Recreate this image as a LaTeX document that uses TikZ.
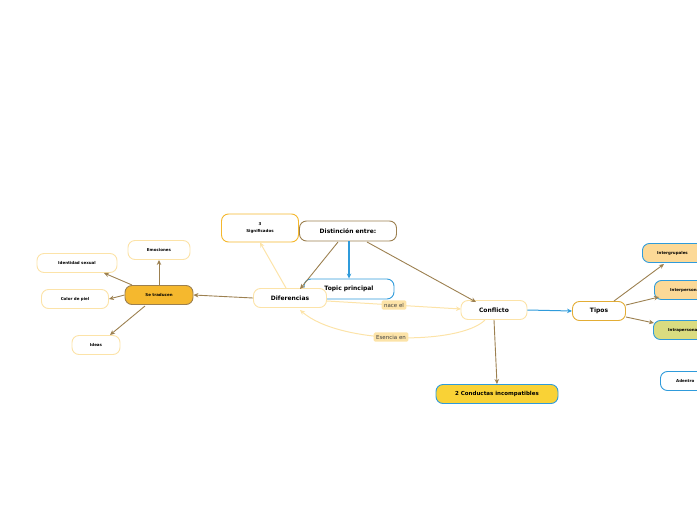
\documentclass[tikz,border=0pt]{standalone}
\usepackage{fontspec}
\setmainfont{DejaVu Sans}
\usetikzlibrary{arrows.meta}
\definecolor{brn}{HTML}{9C8050}
\definecolor{lbr}{HTML}{FCE3A8}
\definecolor{blu}{HTML}{2F9BDB}
\definecolor{gold}{HTML}{F5B82E}
\tikzset{
  box/.style={draw, rounded corners=7pt, fill=white, line width=0.9pt, align=center, inner sep=0pt, font=\bfseries\fontsize{#1}{#1}\selectfont},
  box/.default=4,
  rt/.style={anchor=west, inner sep=0pt, font=\bfseries\fontsize{4}{4}\selectfont},
  ar/.style={draw=brn, line width=0.9pt, -{Stealth[length=5pt,width=4.5pt]}},
  la/.style={draw=lbr, line width=1pt, -{Stealth[length=5pt,width=4.5pt]}},
  ba/.style={draw=blu, line width=1.3pt, -{Stealth[length=5pt,width=4.5pt]}},
  lab/.style={fill=lbr, rounded corners=1.5pt, font=\fontsize{5.5}{5.5}\selectfont, text=black!75, inner sep=2.5pt}
}
\begin{document}
\begin{tikzpicture}[x=1pt,y=-1pt]
\useasboundingbox (0,0) rectangle (697,520);
\clip (0,0) rectangle (697,520);
% right nodes
\node[box, draw=blu, fill=lbr!90!orange, minimum width=90, minimum height=19, anchor=west] (ig) at (642,253) {};
\node[rt] at (657,253.5) {Intergrupales};
\node[box, draw=blu, fill=lbr!90!orange, minimum width=90, minimum height=19, anchor=west] (ip) at (654,290) {};
\node[rt] at (670,290.5) {Interpersonales};
\node[box, draw=blu, fill=yellow!45!green!25!lbr, minimum width=90, minimum height=19, anchor=west] (it) at (653,330) {};
\node[rt] at (668,330.5) {Intrapersonales};
\node[box, draw=blu, minimum width=90, minimum height=19, anchor=west] (ad) at (660,381) {};
\node[rt] at (676,381.5) {Adentro};
\node[box=6, draw=brn, minimum width=97, minimum height=20] (dis) at (348,231) {Distinción entre:};
\node[box=6, draw=blu, minimum width=90, minimum height=20] (top) at (349,289) {Topic principal};
\node[box=6, draw=lbr, minimum width=73, minimum height=19] (dif) at (290,298) {Diferencias};
\node[box, draw=gold, minimum width=77, minimum height=28] (sig) at (260,228) {3\\[3pt]Significados};
\node[box, draw=brn, fill=gold, minimum width=68, minimum height=19] (tra) at (159,295) {Se traducen};
\node[box, draw=lbr, minimum width=62, minimum height=19] (emo) at (159,250) {Emociones};
\node[box, draw=lbr, minimum width=80, minimum height=19] (ide) at (77,263) {Identidad sexual};
\node[box, draw=lbr, minimum width=67, minimum height=19] (col) at (75,299) {Color de piel};
\node[box, draw=lbr, minimum width=48, minimum height=19] (ida) at (96,345) {Ideas};
\node[box=6, draw=lbr, minimum width=66, minimum height=19] (con) at (494,310) {Conflicto};
\node[box=6, draw=gold!80!brn, minimum width=53, minimum height=19] (tip) at (599,311) {Tipos};
\node[box=5.5, draw=blu, fill=gold!70!yellow!90!white, minimum width=122, minimum height=19] (cnd) at (497,394) {2 Conductas incompatibles};
% edges
\draw[ba] (dis.south -| 349,0) -- (top.north);
\draw[ar] (338,242) -- (300,289);
\draw[ar] (367,242) -- (476,302);
\draw[la] (286,288) -- (sig.south);
\draw[ar] (dif.west) -- (tra.east);
\draw[ar] (tra.north) -- (emo.south);
\draw[ar] (132,285) -- (104,273);
\draw[ar] (tra.west) -- (col.east);
\draw[ar] (145,306) -- (110,335);
\draw[la] (327,301) -- node[lab, pos=0.5] (nace) {nace el} (461,309);
\draw[la] (485,320) .. controls (460,345) and (340,345) .. (300,310);
\node[lab] (es) at (391,337) {Esencia en};
\draw[ba, line width=1pt] (con.east) -- (tip.west);
\draw[ar] (con.south) -- (cnd.north);
\draw[ar] (614,301) -- (664,264);
\draw[ar] (626,305) -- (659,297);
\draw[ar] (626,317) -- (654,323);
\end{tikzpicture}
\end{document}
